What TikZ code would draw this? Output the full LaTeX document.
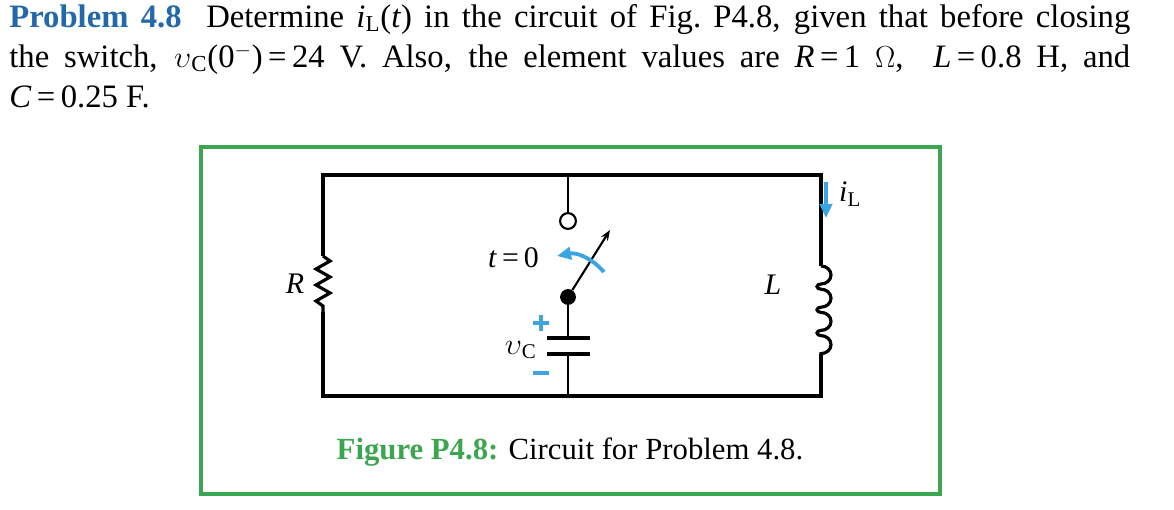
\documentclass[tikz,border=0pt]{standalone}
\usepackage{fontspec}
\setmainfont{Liberation Serif}
\usetikzlibrary{arrows.meta,decorations.pathmorphing}
\definecolor{tblue}{RGB}{35,105,170}
\definecolor{lblue}{RGB}{60,165,225}
\definecolor{fgreen}{RGB}{60,165,80}
\begin{document}
\begin{tikzpicture}[x=0.02cm,y=-0.02cm,
  wire/.style={line width=1.8pt},
  thin wire/.style={line width=1.2pt},
  lab/.style={font=\fontsize{17}{20}\selectfont},
  blarrow/.style={lblue,line width=2.2pt,-{Triangle[length=8pt,width=7pt]}}]
\useasboundingbox (0,0) rectangle (1174,510);
\node[anchor=north west,inner sep=0pt,text width=638pt,align=justify,
  font=\fontsize{18.6}{22.7}\selectfont] (title) at (9,4)
  {\textcolor{tblue}{\textbf{Problem 4.8}}\ \ Determine \textit{i}\textsubscript{L}(\textit{t}) in the circuit of Fig.~P4.8, given that before closing\linebreak
  the switch, $\upsilon$\textsubscript{C}(0\textsuperscript{$-$})\,=\,24~V. Also, the element values are \textit{R}\,=\,1~$\Omega$,\ \ \textit{L}\,=\,0.8~H, and\linebreak
  \textit{C}\,=\,0.25~F.\hfill\null};
\draw[fgreen,line width=2.2pt] (201,147) rectangle (940,494);
\coordinate (tl) at (323,175); \coordinate (tr) at (821,175);
\coordinate (bl) at (323,396); \coordinate (br) at (821,396);
\coordinate (tm) at (568,175); \coordinate (bm) at (568,396);
\coordinate (r1) at (323,256); \coordinate (r2) at (323,312);
\coordinate (l1) at (821,266); \coordinate (l2) at (821,354);
\coordinate (c1) at (568,338); \coordinate (c2) at (568,354);
\node[circle,draw,line width=1.2pt,inner sep=0pt,minimum size=9pt,fill=white] (term) at (568,221) {};
\node[circle,fill,inner sep=0pt,minimum size=9pt] (piv) at (568,297) {};
\coordinate (blade) at (610,230);
\draw[wire] (r1) -- (tl) -- (tr) -- (l1);
\draw[wire] (r2) -- (bl) -- (br) -- (l2);
\draw[wire] (r1) -- ++(7,5) -- ++(-14,8) -- ++(14,8) -- ++(-14,8) -- ++(14,8) -- ++(-14,8) -- ++(7,5) -- (r2);
% inductor: four loops bulging right
\draw[wire] (l1) arc[start angle=-90,end angle=90,x radius=10,y radius=9]
  arc[start angle=-90,end angle=-270,x radius=4,y radius=2.6]
  arc[start angle=-90,end angle=90,x radius=10,y radius=9]
  arc[start angle=-90,end angle=-270,x radius=4,y radius=2.6]
  arc[start angle=-90,end angle=90,x radius=10,y radius=9]
  arc[start angle=-90,end angle=-270,x radius=4,y radius=2.6]
  arc[start angle=-90,end angle=90,x radius=10,y radius=9] -- (l2);
\draw[thin wire] (tm) -- (term);
\draw[thin wire] (piv) -- (c1);
\draw[thin wire] (c2) -- (bm);
\draw[thin wire,-{Stealth[length=6pt]}] (piv) -- (blade);
\draw[line width=2.2pt] (547,338) -- (590,338) (547,354) -- (590,354);
\draw[blarrow] (604,272) to[bend right=30] (557,256);
\node[lab,anchor=east] (t0) at (545,258) {\textit{t}\,=\,0};
\node[lab] (R) at (295,284) {\textit{R}};
\node[lab] (L) at (773,285) {\textit{L}};
\node[lab,anchor=east] (vc) at (543,350) {$\upsilon$\textsubscript{C}};
\draw[lblue,line width=2.6pt] (533,323) -- (549,323) (541,315) -- (541,331);
\draw[lblue,line width=2.6pt] (533,373) -- (549,373);
\draw[blarrow] (826,182) -- (826,218);
\node[lab,anchor=west] (iL) at (833,194) {\textit{i}\textsubscript{L}};
\node[font=\fontsize{17.5}{20}\selectfont] (cap) at (570,452) {\textcolor{fgreen}{\textbf{Figure P4.8:}} Circuit for Problem 4.8.};
\end{tikzpicture}
\end{document}
